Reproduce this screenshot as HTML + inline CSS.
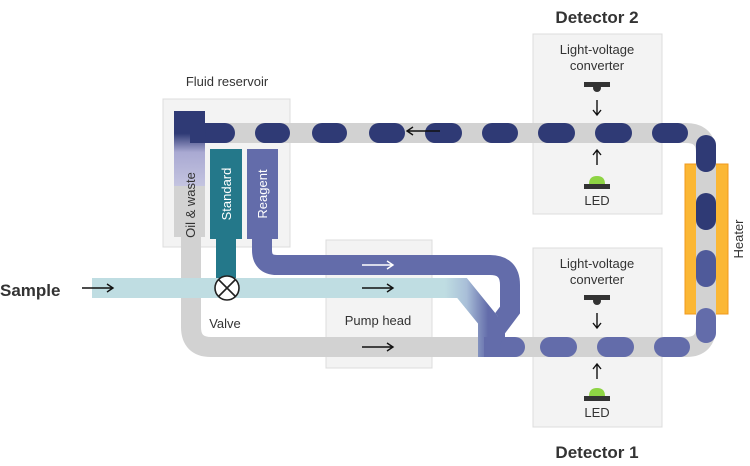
<!DOCTYPE html>
<html><head><meta charset="utf-8"><style>
body{margin:0;background:#fff}
svg{display:block;font-family:"Liberation Sans",sans-serif}
</style></head><body>
<svg width="750" height="466" viewBox="0 0 750 466" xmlns="http://www.w3.org/2000/svg">
<defs>
<linearGradient id="ow" x1="0" y1="0" x2="0" y2="1">
<stop offset="0" stop-color="#2f3a75"/><stop offset="0.3" stop-color="#2f3a75"/><stop offset="0.55" stop-color="#a9a9d2"/><stop offset="1" stop-color="#c4c4e0"/>
</linearGradient>
<linearGradient id="sg" x1="0" y1="0" x2="1" y2="0">
<stop offset="0" stop-color="#bfdde2"/><stop offset="0.5" stop-color="#a9bfd8"/><stop offset="1" stop-color="#636caa"/>
</linearGradient>
</defs>
<rect x="163" y="99" width="127" height="148" fill="#f3f3f3" stroke="#dcdcdc"/>
<rect x="326" y="240" width="106" height="128" fill="#f3f3f3" stroke="#dcdcdc"/>
<rect x="533" y="34" width="129" height="180" fill="#f3f3f3" stroke="#dcdcdc"/>
<rect x="533" y="248" width="129" height="179" fill="#f3f3f3" stroke="#dcdcdc"/>
<rect x="685" y="164" width="43" height="150" fill="#fbb735" stroke="#f09a1c"/>
<text x="743" y="239" font-size="13" fill="#333" text-anchor="middle" transform="rotate(-90 743 239)">Heater</text>
<path d="M191 237 V327 Q191 347 211 347 H686 Q706 347 706 327 V153 Q706 133 686 133 H200" fill="none" stroke="#d2d2d2" stroke-width="20"/>
<rect x="174" y="111" width="31" height="126" fill="#d2d2d2"/>
<rect x="174" y="111" width="31" height="75" fill="url(#ow)"/>
<rect x="190" y="123" width="30" height="20" fill="#2f3a75"/>
<path d="M215 133 H225" stroke="#2f3a75" stroke-width="20" stroke-linecap="round"/>
<text x="195" y="205" font-size="13" fill="#333" text-anchor="middle" transform="rotate(-90 195 205)">Oil &amp; waste</text>
<rect x="216" y="235" width="20" height="53" fill="#24788a"/>
<rect x="210" y="149" width="32" height="90" fill="#24788a"/>
<text x="231" y="194" font-size="13" fill="#fff" text-anchor="middle" transform="rotate(-90 231 194)">Standard</text>
<path d="M262 235 V250 Q262 265 277 265 H490 Q510 265 510 285 V310 L495 330 V347 H510" fill="none" stroke="#636caa" stroke-width="20"/>
<rect x="247" y="149" width="31" height="90" fill="#636caa"/>
<text x="267" y="194" font-size="13" fill="#fff" text-anchor="middle" transform="rotate(-90 267 194)">Reagent</text>
<path d="M92 288 H462 L488 320 V347" fill="none" stroke="#bfdde2" stroke-width="20"/>
<path d="M445 288 H462 L488 320 V357" fill="none" stroke="url(#sg)" stroke-width="20"/>
<rect x="484" y="337" width="26" height="20" fill="#636caa"/>
<circle cx="227" cy="288" r="12" fill="#fff" stroke="#222" stroke-width="1.6"/>
<path d="M219 280 L235 296 M235 280 L219 296" stroke="#222" stroke-width="1.6"/>
<g stroke-linecap="round" stroke-width="20" fill="none">
<g stroke="#2f3a75">
<path d="M265 133 H280 M322 133 H337 M379 133 H395 M435 133 H452 M492 133 H508 M548 133 H565 M605 133 H622 M662 133 H678"/>
<path d="M706 145 V162 M706 203 V220"/>
</g>
<path d="M706 260 V277" stroke="#4f5a9a"/>
<g stroke="#636caa">
<path d="M706 318 V333 M550 347 H567 M607 347 H624 M664 347 H680 M510 347 H515"/>
</g>
</g>
<g stroke="#111" stroke-width="1.4" fill="none">
<path d="M82 288 H113 M107 284 L113 288 L107 292"/>
<path d="M362 288 H393 M387 284 L393 288 L387 292"/>
<path d="M362 347 H393 M387 343 L393 347 L387 351"/>
<path d="M440 131 H407 M413 127 L407 131 L413 135"/>
<path d="M597 100 V115 M593 110 L597 115 L601 110"/>
<path d="M597 165 V150 M593 155 L597 150 L601 155"/>
<path d="M597 313 V328 M593 323 L597 328 L601 323"/>
<path d="M597 379 V364 M593 369 L597 364 L601 369"/>
</g>
<path d="M362 265 H393 M387 261 L393 265 L387 269" stroke="#fff" stroke-width="1.4" fill="none"/>
<g fill="#333">
<rect x="584" y="82" width="26" height="5"/><circle cx="597" cy="88" r="4"/>
<rect x="584" y="295" width="26" height="5"/><circle cx="597" cy="301" r="4"/>
<rect x="584" y="184" width="26" height="5"/>
<rect x="584" y="396" width="26" height="5"/>
</g>
<path d="M589 184 Q589 176 597 176 Q605 176 605 184 Z" fill="#8ed444"/>
<path d="M589 396 Q589 388 597 388 Q605 388 605 396 Z" fill="#8ed444"/>
<g fill="#333" font-size="13" text-anchor="middle">
<text x="597" y="54">Light-voltage</text><text x="597" y="70">converter</text>
<text x="597" y="205">LED</text>
<text x="597" y="268">Light-voltage</text><text x="597" y="284">converter</text>
<text x="597" y="417">LED</text>
<text x="227" y="86">Fluid reservoir</text>
<text x="378" y="325">Pump head</text>
<text x="225" y="328">Valve</text>
</g>
<g fill="#333" font-size="17" font-weight="bold">
<text x="597" y="23" text-anchor="middle">Detector 2</text>
<text x="597" y="458" text-anchor="middle">Detector 1</text>
<text x="0" y="296">Sample</text>
</g>
</svg>
</body></html>
